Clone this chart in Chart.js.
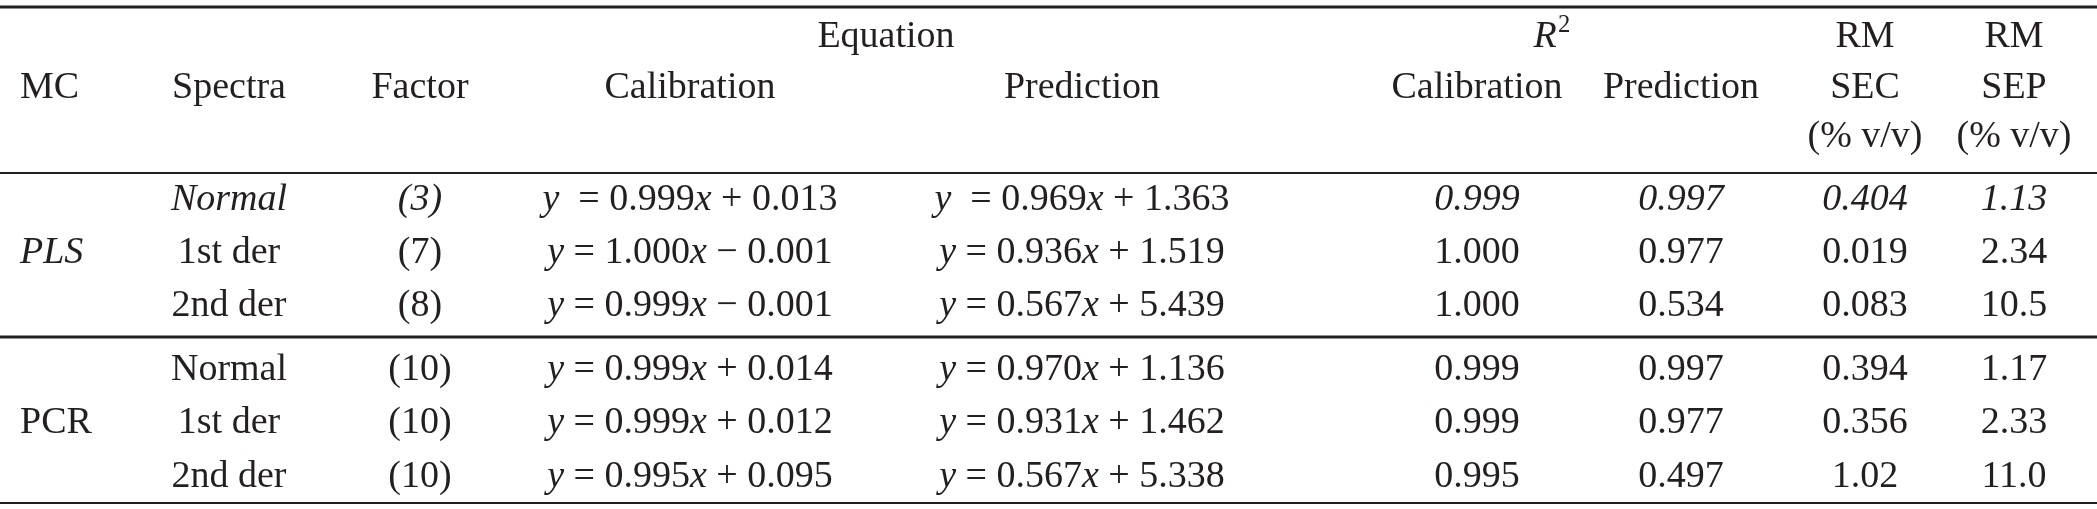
<!DOCTYPE html>
<html>
<head>
<meta charset="utf-8">
<script src="https://cdn.jsdelivr.net/npm/chart.js@4"></script>
<style>
  html, body { margin: 0; padding: 0; background: #fff; }
  #wrap { width: 2097px; height: 509px; }
</style>
</head>
<body>
<div id="wrap"><canvas id="chart"></canvas></div>
<script>
// table data
const methods = ['PLS', 'PCR']
const spectra = ['Normal', '1st der', '2nd der', 'Normal', '1st der', '2nd der']
const factors = ['(3)', '(7)', '(8)', '(10)', '(10)', '(10)']
const calSlope = ['0.999', '1.000', '0.999', '0.999', '0.999', '0.995']
const calInter = ['+ 0.013', '− 0.001', '− 0.001', '+ 0.014', '+ 0.012', '+ 0.095']
const predSlope = ['0.969', '0.936', '0.567', '0.970', '0.931', '0.567']
const predInter = ['+ 1.363', '+ 1.519', '+ 5.439', '+ 1.136', '+ 1.462', '+ 5.338']
const r2Cal = ['0.999', '1.000', '1.000', '0.999', '0.999', '0.995']
const r2Pred = ['0.997', '0.977', '0.534', '0.997', '0.977', '0.497']
const rmsec = ['0.404', '0.019', '0.083', '0.394', '0.356', '1.02']
const rmsep = ['1.13', '2.34', '10.5', '1.17', '2.33', '11.0']
const italicRows = [0]

// layout (column centres and row centres in px)
const colX = [20, 229, 420, 690, 1082, 1477, 1681, 1865, 2014]
const headY = [37, 88, 137]
const rowY = [200, 253, 306, 370, 423, 477]
const lines = [[7, 3], [173, 2], [337, 3], [503, 2]]
const FS = 38
const FAM = '"Liberation Serif", "DejaVu Serif", serif'

const tablePlugin = {
    id: 'table',
    afterDraw(chart) {
        const c = chart.ctx
        c.save()
        c.fillStyle = '#231f20'
        c.strokeStyle = '#231f20'
        c.textBaseline = 'middle'
        const font = (it) => (it ? 'italic ' : '') + FS + 'px ' + FAM
        const text = (s, x, y, it, align) => {
            c.font = font(it)
            c.textAlign = align || 'center'
            c.fillText(s, x, y)
        }
        const pieces = (parts, x, y) => {
            let w = 0
            parts.forEach(p => { c.font = font(p[1]); w += c.measureText(p[0]).width })
            let cx = x - w / 2
            c.textAlign = 'left'
            parts.forEach(p => { c.font = font(p[1]); c.fillText(p[0], cx, y); cx += c.measureText(p[0]).width })
        }
        lines.forEach(([y, w]) => {
            c.lineWidth = w
            c.beginPath(); c.moveTo(0, y); c.lineTo(chart.width, y); c.stroke()
        })
        // header
        text('Equation', (colX[3] + colX[4]) / 2, headY[0])
        pieces([['R', true]], 1545, headY[0])
        c.font = (FS * 0.65) + 'px ' + FAM; c.textAlign = 'left'; c.fillText('2', 1558, headY[0] - 11)
        text('MC', colX[0], headY[1], false, 'left')
        text('Spectra', colX[1], headY[1])
        text('Factor', colX[2], headY[1])
        text('Calibration', colX[3], headY[1])
        text('Prediction', colX[4], headY[1])
        text('Calibration', colX[5], headY[1])
        text('Prediction', colX[6], headY[1])
        text('RM', colX[7], headY[0]); text('SEC', colX[7], headY[1]); text('(% v/v)', colX[7], headY[2])
        text('RM', colX[8], headY[0]); text('SEP', colX[8], headY[1]); text('(% v/v)', colX[8], headY[2])
        // body
        text(methods[0], colX[0], rowY[1], true, 'left')
        text(methods[1], colX[0], rowY[4], false, 'left')
        spectra.forEach((s, i) => {
            const it = italicRows.includes(i)
            const y = rowY[i]
            const eq = i === 0 ? '  = ' : ' = '
            text(s, colX[1], y, it)
            text(factors[i], colX[2], y, it)
            pieces([['y', true], [eq + calSlope[i], false], ['x', true], [' ' + calInter[i], false]], colX[3], y)
            pieces([['y', true], [eq + predSlope[i], false], ['x', true], [' ' + predInter[i], false]], colX[4], y)
            text(r2Cal[i], colX[5], y, it)
            text(r2Pred[i], colX[6], y, it)
            text(rmsec[i], colX[7], y, it)
            text(rmsep[i], colX[8], y, it)
        })
        c.restore()
    }
}

new Chart(document.getElementById('chart'), {
    type: 'scatter',
    data: { datasets: [{ data: [] }] },
    options: {
        responsive: true,
        maintainAspectRatio: false,
        animation: false,
        layout: { padding: 0 },
        plugins: { legend: { display: false }, tooltip: { enabled: false } },
        scales: { x: { display: false }, y: { display: false } }
    },
    plugins: [tablePlugin]
})
</script>
</body>
</html>
